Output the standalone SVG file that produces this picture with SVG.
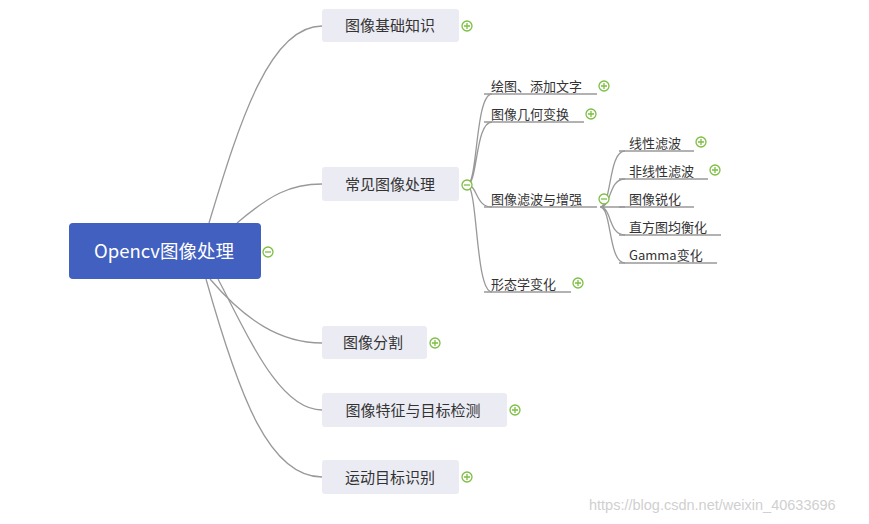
<svg xmlns="http://www.w3.org/2000/svg" width="869" height="524" viewBox="0 0 869 524">
<style>
text{font-family:"Noto Sans CJK SC","Noto Sans",sans-serif;}
.l1{fill:#ebebf3;}
.t1{font-size:15px;fill:#333;}
.t2{font-size:13px;fill:#333;}
.c{fill:none;stroke:#999;stroke-width:1.3;}
.u{fill:none;stroke:#999;stroke-width:1.3;}
.ic{fill:#fff;stroke:#7cbf42;stroke-width:1.3;}
.is{stroke:#7cbf42;stroke-width:1.3;}
</style>
<defs>
<g id="plus"><circle r="5" class="ic"/><path d="M-3 0H3M0 -3V3" class="is"/></g>
<g id="minus"><circle r="5" class="ic"/><path d="M-3 0H3" class="is"/></g>
</defs>
<rect width="869" height="524" fill="#fff"/>
<g id="connectors">
<path class="c" d="M209 223 C240 120 270 26 322 26"/>
<path class="c" d="M237 223 C270 195 290 184 322 184"/>
<path class="c" d="M210 279 C245 320 280 343 322 343"/>
<path class="c" d="M218 279 C250 340 280 410 322 410"/>
<path class="c" d="M206 279 C240 400 270 477 322 477"/>
<path class="c" d="M467 185 C478 185 475 94 492 94 M467 185 C478 185 475 122 492 122 M467 185 C478 185 475 207 492 207 M467 185 C478 185 475 292 492 292"/>
<path class="u" d="M484 94H597M484 122H584M484 207H597M484 292H571"/>
<path class="c" d="M600 207 C612 207 608 151 625 151 M600 207 C612 207 608 179 625 179 M600 207H625 M600 207 C612 207 608 235 625 235 M600 207 C612 207 608 263 625 263"/>
<path class="u" d="M619 151H694M619 179H708M619 207H694M619 235H721M619 263H717"/>
</g>
<g id="root"><rect x="69" y="223" width="192" height="56" rx="4" fill="#4260bf"/><text x="164" y="258" font-size="18.5" fill="#fff" text-anchor="middle">Opencv图像处理</text><use href="#minus" x="268" y="252"/></g>
<g id="n1"><rect class="l1" x="322" y="9" width="137" height="33" rx="3"/><text class="t1" x="390" y="31" text-anchor="middle">图像基础知识</text><use href="#plus" x="467" y="26"/></g>
<g id="n2"><rect class="l1" x="322" y="167" width="137" height="34" rx="3"/><text class="t1" x="390" y="190" text-anchor="middle">常见图像处理</text><use href="#minus" x="467" y="185"/></g>
<g id="n3"><rect class="l1" x="322" y="326" width="105" height="33" rx="3"/><text class="t1" x="373" y="348" text-anchor="middle">图像分割</text><use href="#plus" x="435" y="343"/></g>
<g id="n4"><rect class="l1" x="322" y="393" width="185" height="34" rx="3"/><text class="t1" x="413" y="416" text-anchor="middle">图像特征与目标检测</text><use href="#plus" x="515" y="410"/></g>
<g id="n5"><rect class="l1" x="322" y="460" width="137" height="34" rx="3"/><text class="t1" x="390" y="483" text-anchor="middle">运动目标识别</text><use href="#plus" x="467" y="477"/></g>
<g id="n21"><text class="t2" x="491" y="91">绘图、添加文字</text><use href="#plus" x="604" y="86"/></g>
<g id="n22"><text class="t2" x="491" y="119">图像几何变换</text><use href="#plus" x="591" y="114"/></g>
<g id="n23"><text class="t2" x="491" y="204">图像滤波与增强</text><use href="#minus" x="604" y="199"/></g>
<g id="n24"><text class="t2" x="491" y="289">形态学变化</text><use href="#plus" x="578" y="283"/></g>
<g id="n231"><text class="t2" x="629" y="148">线性滤波</text><use href="#plus" x="701" y="142"/></g>
<g id="n232"><text class="t2" x="629" y="176">非线性滤波</text><use href="#plus" x="715" y="170"/></g>
<g id="n233"><text class="t2" x="629" y="204">图像锐化</text></g>
<g id="n234"><text class="t2" x="629" y="232">直方图均衡化</text></g>
<g id="n235"><text class="t2" x="629" y="260">Gamma变化</text></g>
<text x="589" y="510" font-size="14.5" fill="#d0d0d0" style="font-family:'Liberation Sans',sans-serif">https://blog.csdn.net/weixin_40633696</text>
</svg>
